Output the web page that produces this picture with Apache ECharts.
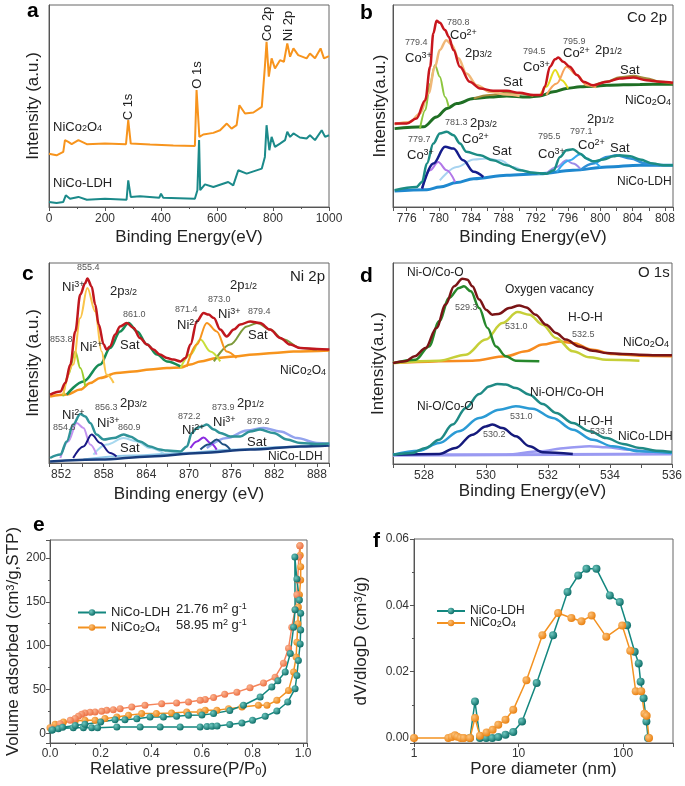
<!DOCTYPE html>
<html>
<head>
<meta charset="utf-8">
<script src="https://cdn.jsdelivr.net/npm/echarts/dist/echarts.min.js"></script>
<style>
html,body{margin:0;padding:0;background:#fff;}
#main{width:685px;height:786px;}
</style>
</head>
<body>
<div id="main"></div>
<script>
// ---- a: survey spectra (binding energy eV, intensity a.u.)
var aNiCo2O4 = [[0,26.4],[27,25.6],[51,27.3],[57,33.1],[69,32.2],[81,31.1],[105,33.1],[135,31.1],[200,31.4],[275,31.1],[283,43.0],[292,31.4],[361,30.9],[444,30.4],[521,30.2],[527,57.9],[537,34.7],[551,35.9],[587,36.7],[611,38.0],[635,41.3],[652,38.8],[670,40.5],[680,50.4],[700,46.3],[730,46.8],[760,49.6],[771,69.4],[777,81.8],[785,64.5],[795,73.6],[807,68.6],[825,72.7],[839,71.9],[851,81.0],[861,74.4],[873,78.5],[890,75.2],[920,73.6],[932,76.0],[950,73.6],[970,78.5],[982,73.6],[1000,74.7]];
var aLDH = [[0,2.5],[27,2.0],[51,2.5],[60,5.8],[75,4.1],[105,5.0],[135,3.6],[200,4.1],[277,3.6],[283,13.2],[292,5.0],[325,5.3],[394,4.6],[400,6.6],[408,4.6],[521,4.1],[530,8.3],[536,33.1],[540,8.3],[557,11.2],[587,9.9],[640,12.4],[658,10.7],[676,18.2],[706,16.5],[760,19.0],[771,24.8],[777,40.5],[787,28.1],[795,34.7],[807,29.8],[825,31.4],[843,33.1],[851,37.2],[861,34.7],[873,36.4],[896,34.4],[920,33.9],[932,35.5],[950,33.1],[974,38.0],[986,34.7],[1000,35.5]];

// ---- b: Co 2p
var bOxEnv = [[774.5,41.3],[776,41.3],[777.2,43.8],[778.3,52.9],[778.9,69.4],[779.3,86.0],[779.7,92.2],[780.1,91.2],[780.75,87.6],[781.2,84.3],[781.8,77.7],[782.6,69.4],[783.8,62.0],[785.1,58.7],[786.7,57.5],[788.4,57.5],[790.0,56.5],[791.7,55.4],[792.7,55.4],[793.1,59.5],[793.75,69.4],[794.4,73.1],[794.8,74.0],[795.4,71.9],[796.2,69.4],[797.1,65.3],[797.9,62.0],[799.1,60.3],[800.8,62.0],[802.4,63.6],[804.1,64.1],[805.7,62.8],[807.4,62.0],[809,61.5]];
var bOxBg = [[774.5,38.8],[778.1,39.7],[779.7,44.6],[781.0,48.8],[782.2,51.2],[784.3,53.7],[786.3,54.5],[788.4,55.0],[790.9,54.5],[792.5,55.0],[794.2,57.0],[795.8,58.7],[797.5,59.5],[799.1,59.8],[800.8,60.3],[804.9,60.7],[809,60.8]];
var bOxCo2 = [[774.5,41.0],[776.4,42.1],[777.65,46.3],[778.7,56.2],[779.5,69.4],[780.1,77.7],[780.9,82.6],[781.6,80.2],[782.4,73.6],[783.4,66.1],[784.7,60.3],[786.3,57.0],[788.4,55.7],[790.0,55.0]];
var bOxCo3 = [[777.65,38.8],[778.3,47.9],[778.9,61.2],[779.5,70.2],[780.1,64.5],[780.75,54.5],[781.2,49.6]];
var bOxSat1 = [[784.3,53.7],[786.3,55.4],[788.4,56.5],[790.0,56.2],[791.7,54.9]];
var bOxCo3b = [[792.5,55.0],[793.3,59.5],[794.4,67.8],[795.2,62.8],[796.0,58.7]];
var bOxCo2b = [[793.3,55.4],[794.6,61.2],[795.8,69.4],[797.1,65.3],[798.3,60.3],[799.5,59.2]];
var bOxSat2 = [[799.1,59.8],[800.8,62.0],[802.4,64.1],[804.1,64.8],[805.7,63.6],[807.4,62.0],[809,61.2]];
var bLdhEnv = [[774.5,8.3],[777.2,9.9],[777.9,12.4],[778.5,21.5],[779.3,31.4],[780.1,36.4],[780.95,37.2],[781.8,35.5],[782.6,31.4],[783.4,27.3],[785.1,25.6],[786.7,23.1],[788.4,20.7],[790.0,18.2],[791.7,17.0],[793.3,16.5],[794.2,18.2],[795.0,24.8],[795.8,28.1],[796.6,28.6],[797.5,26.4],[798.3,24.0],[799.1,22.6],[800.4,23.5],[801.6,25.1],[802.4,25.6],[803.7,25.1],[804.9,23.5],[806.55,21.5],[807.8,20.7],[809,20.7]];
var bLdhBg = [[774.5,7.9],[778.5,8.6],[780.1,9.9],[782.2,12.1],[784.3,14.0],[788.4,15.7],[792.5,16.5],[796.6,18.2],[800.8,19.8],[804.9,20.7],[809,20.7]];
var bLdhCo3 = [[777.9,9.1],[778.9,18.2],[779.9,22.3],[780.95,18.2],[782.0,12.4]];
var bLdhCo2 = [[777.9,9.1],[779.3,21.5],[780.75,29.8],[781.8,28.9],[783.0,23.1],[784.3,17.4],[785.5,14.9]];
var bLdhSat1 = [[780.1,13.2],[782.2,19.8],[784.3,23.5],[785.9,24.0],[787.6,23.1],[789.2,19.8],[790.9,17.4],[792.5,16.5]];
var bLdhCo3b = [[793.3,16.5],[794.6,19.8],[795.8,23.1],[796.6,21.5],[797.5,19.0]];
var bLdhCo2b = [[794.6,17.4],[796.2,23.1],[797.5,26.1],[798.7,23.1],[800.0,19.8]];
var bLdhSat2 = [[797.5,18.2],[799.1,21.5],[800.8,24.8],[802.0,25.6],[803.7,24.0],[805.7,21.5],[807.4,20.7]];

// ---- c: Ni 2p
var cOxEnv = [[850.45,34.2],[851.9,35.8],[852.6,40],[853.3,49.2],[854.0,65.8],[854.7,84.2],[855.4,90],[855.7,92.2],[856.3,88.3],[856.8,79.2],[857.3,69.2],[858.0,59.2],[858.4,56.7],[858.9,58.3],[859.6,64.2],[860.3,68.3],[861.25,70],[862.2,67.5],[863.1,62.5],[864.1,59.2],[865.0,56.7],[865.9,54.2],[866.9,52.5],[867.8,51.7],[868.8,50.8],[869.5,52.5],[870.2,59.2],[871.1,70.8],[872.05,75],[872.75,74.2],[873.5,72.5],[874.4,66.7],[875.3,63.3],[876.3,66.7],[877.2,69.2],[878.6,70.8],[880.0,70],[881.4,66.7],[882.85,62.5],[884.25,59.2],[885.7,57.5],[888.0,57],[889.75,56.7]];
var cOxBg = [[850.45,33.3],[852.8,34.2],[854.7,36.7],[856.1,40],[857.5,42.5],[859.8,45],[862.2,45.8],[864.5,46.7],[866.9,47.5],[868.8,47.8],[870.2,49.2],[871.6,50.8],[873.9,52.5],[876.3,53.3],[879.1,54.2],[881.9,55],[884.7,55.8],[889.75,56.3]];
var cOxSat1 = [[852.8,34.2],[855.15,40.8],[857.5,49.2],[858.9,57.5],[860.3,65.8],[861.5,70],[862.7,65.8],[864.1,59.2],[865.5,54.2],[866.9,50.8],[868.8,48.3]];
var cOxNi3 = [[852.3,34.2],[853.7,49.2],[854.7,72.5],[855.7,87.5],[856.8,75.8],[857.7,55.8],[858.4,44.2],[859.4,40]];
var cOxNi2 = [[852.3,33.3],[853.0,44.2],[854.0,55.8],[854.7,47.5],[855.4,38.3]];
var cOxNi2b = [[868.8,47.5],[870.2,54.2],[871.6,61.7],[873.0,55.8],[874.4,50.8]];
var cOxNi3b = [[869.7,48.3],[871.1,59.2],[872.5,70],[873.9,65.8],[875.3,55.8],[876.7,52.5]];
var cOxSat2 = [[873.5,50.8],[875.8,59.2],[878.15,68.3],[879.6,70],[881.4,66.7],[883.3,61.7],[885.7,57.5],[888.0,56.7]];
var cLdhEnv = [[850.45,2.5],[851.9,4.2],[852.8,10.8],[853.7,19.2],[854.7,24.5],[855.4,23.3],[856.1,20],[857.0,14.2],[858.0,11.7],[859.4,12.5],[860.8,14.2],[861.7,13.3],[863.1,10.8],[864.5,8.3],[865.9,6.7],[866.9,6.2],[868.8,5.8],[869.7,8.3],[870.4,15],[871.1,17.5],[871.8,18.3],[872.5,19.2],[873.5,16.7],[874.4,15],[875.8,13.3],[877.2,13.3],[878.6,15.8],[880.0,16.7],[881.9,15],[883.8,11.7],[885.7,10],[888.0,9.5],[889.75,9.7]];
var cLdhBg = [[850.45,0.8],[857.5,1.7],[864.5,3.3],[871.6,5],[878.6,6.7],[885.7,8.3],[889.75,8.8]];
var cLdhBg2 = [[855.15,1.7],[862.2,3.7],[869.2,5],[876.3,6.7],[883.3,8],[889.75,9.2]];
var cLdhNi2 = [[851.9,2.5],[853.0,10.8],[854.2,20],[855.15,17.5],[856.1,9.2],[857.0,4.2]];
var cLdhNi3 = [[853.7,2.5],[855.15,8.3],[856.3,14.2],[857.5,10],[858.9,5],[859.8,3.3]];
var cLdhSat1 = [[856.55,4.2],[858.4,9.2],[860.8,12.5],[862.7,10.8],[864.5,7.5],[866.4,5]];
var cLdhNi2b = [[870.2,7.5],[871.1,10.8],[872.05,12.8],[873.0,10],[873.9,6.7]];
var cLdhNi3b = [[871.6,6.7],[872.75,9.2],[873.9,11.7],[874.9,9.2],[875.8,6.7]];
var cLdhSat2 = [[872.5,7.5],[875.3,12.5],[878.15,16.2],[880.5,17.5],[882.85,15.8],[885.2,12.5],[888.0,10],[889.75,9.5]];

// ---- d: O 1s
var dOxEnv = [[527,50.2],[527.4,51.1],[527.7,53.6],[528.05,57.7],[528.4,67.7],[528.7,79.3],[528.97,88.4],[529.24,92.2],[529.4,91.7],[529.56,88.4],[529.78,81.8],[530.0,76.8],[530.2,74.3],[530.4,74.6],[530.75,77.6],[531.07,78.9],[531.3,77.9],[531.6,74.3],[531.94,69.3],[532.26,65.2],[532.58,61.9],[533.0,58.5],[533.44,56.4],[533.9,55.2],[534.4,54.7],[534.95,54.4],[535.5,54.1],[536,54.1]];
var dOxO1 = [[527,50.2],[527.73,51.9],[528.16,58.5],[528.49,71.0],[528.81,82.6],[529.13,87.6],[529.29,88.4],[529.51,85.9],[529.78,77.6],[530.05,67.7],[530.32,58.5],[530.64,53.6],[530.96,51.4],[531.72,51.1]];
var dOxO2 = [[527,50.2],[528.49,51.4],[529.35,54.4],[529.99,61.9],[530.53,70.1],[531.02,75.6],[531.4,74.3],[531.83,69.3],[532.26,62.7],[532.8,56.1],[533.34,53.1],[533.88,51.9],[534.95,51.4]];
var dOxO3 = [[527,50.2],[529.56,51.4],[530.64,53.6],[531.29,56.1],[531.83,59.4],[532.37,61.0],[532.8,60.2],[533.44,56.9],[534.09,54.7],[534.95,53.9],[536,53.6]];
var dLdhEnv = [[527,4.6],[527.62,5.5],[528.05,8.0],[528.49,12.1],[528.92,19.6],[529.35,27.9],[529.78,34.8],[530.1,38.6],[530.37,39.8],[530.64,39.5],[530.96,37.8],[531.4,34.5],[531.83,29.9],[532.26,25.4],[532.8,20.4],[533.34,16.3],[533.88,12.9],[534.42,10.0],[534.95,8.0],[535.49,6.6],[536,6.0]];
var dLdhO2 = [[527,4.6],[527.84,6.6],[528.49,10.4],[529.13,16.3],[529.78,22.9],[530.43,27.0],[530.96,28.7],[531.5,27.5],[532.15,22.9],[532.8,17.1],[533.44,12.1],[534.09,8.8],[534.95,6.3],[536,5.5]];
var dLdhO1 = [[527,4.6],[528.49,5.0],[529.02,8.0],[529.56,14.6],[529.99,18.7],[530.21,19.6],[530.53,17.9],[530.96,13.8],[531.4,8.8],[531.83,5.8],[532.8,5.0]];
var dLdhO3 = [[527,4.6],[530.64,4.6],[531.72,6.3],[532.58,8.0],[533.34,8.8],[533.88,8.3],[534.63,7.1],[535.39,5.8],[536,5.3]];
var dLdhBg = [[527,4.4],[536,5.0]];

// ---- e: N2 isotherms (P/P0, cm3/g)
var eLdh = [[0.007,3.4],[0.033,5.3],[0.092,6.5],[0.132,6.5],[0.165,6.5],[0.188,6.5],[0.264,7.2],[0.356,7.2],[0.435,7.2],[0.514,7.2],[0.593,7.2],[0.62,7.8],[0.64,8.0],[0.66,8.5],[0.71,10],[0.758,11.8],[0.8,14.9],[0.85,19.4],[0.896,25.5],[0.939,35.8],[0.968,51],[0.975,66],[0.981,83],[0.988,102],[0.99,118],[0.99,137],[0.985,152],[0.975,176],[0.967,201],[0.968,141],[0.962,121],[0.949,91],[0.929,70],[0.9,60],[0.876,53],[0.83,41.5],[0.764,32],[0.71,26],[0.646,22.5],[0.6,21],[0.547,20.6],[0.5,19.4],[0.448,18.7],[0.395,18.7],[0.343,16.7],[0.296,15.6],[0.257,15.6],[0.2,13],[0.138,10.3],[0.1,9],[0.05,7],[0.01,4]];
var eOxAds = [[0,6.5],[0.02,10.3],[0.053,12.9],[0.099,14.1],[0.138,14.9],[0.178,14.9],[0.217,16.8],[0.264,18.7],[0.31,20.6],[0.362,22.5],[0.42,22.5],[0.48,23.2],[0.54,24.4],[0.593,24.4],[0.613,26.3],[0.659,26.3],[0.705,28.2],[0.758,30],[0.823,32],[0.857,32],[0.896,37.7],[0.942,49],[0.962,70],[0.972,87],[0.975,104],[0.979,125],[0.981,144],[0.985,158],[0.99,175],[0.99,190],[0.988,203],[0.987,214]];
var eOxDes = [[0.987,214],[0.983,201],[0.978,175],[0.975,158],[0.968,141],[0.955,121],[0.942,97],[0.922,80],[0.889,64],[0.843,57.5],[0.79,52],[0.738,47],[0.69,44.6],[0.646,40.8],[0.613,38.5],[0.593,37.7],[0.547,35.8],[0.5,34.7],[0.441,33.9],[0.375,32],[0.323,30],[0.277,28.2],[0.25,27],[0.224,26.3],[0.204,25.1],[0.178,24.4],[0.158,24],[0.138,23.2],[0.125,21.7],[0.112,19.4],[0.099,16.8],[0.08,14.9],[0.04,11],[0.007,5.3]];

// ---- f: pore size distribution (nm, cm3/g)
var fLdh = [[3.43,0],[3.83,0.011],[4.27,0],[4.9,0],[5.6,0],[6.4,0.0003],[7.5,0.001],[8.9,0.0018],[10.8,0.005],[14.9,0.0166],[21.4,0.031],[29.4,0.044],[37.2,0.049],[44.6,0.051],[55.6,0.051],[74.6,0.043],[92.9,0.041],[109,0.034],[129,0.026],[141,0.0225],[147,0.017],[157,0.012],[167,0.005],[173,0]];
var fOx = [[1,0],[2.13,0],[2.3,0.0003],[2.46,0.0008],[2.6,0.0004],[2.8,0],[3.0,0],[3.43,0],[3.83,0.006],[4.27,0.0007],[4.94,0.0017],[5.65,0.0025],[6.4,0.004],[7.5,0.0055],[8.9,0.0085],[11.9,0.0174],[16.9,0.031],[23.9,0.0377],[32,0.0362],[40,0.0352],[50,0.0369],[69,0.0305],[98,0.0339],[117,0.0263],[132,0.0141],[149,0.0141],[160,0.0073],[168,0.0067],[177,0]];

var FONT = 'Liberation Sans, Arial, sans-serif';
var RICH = {
	sup: {fontSize: 9, verticalAlign: 'top', fontFamily: FONT},
	sub: {fontSize: 9, verticalAlign: 'bottom', fontFamily: FONT}
};
// "Co^{3+}" / "NiCo_{2}O_{4}" -> echarts rich text
function fmt(s) {
	return s.replace(/\^\{([^}]*)\}/g, '{sup|$1}').replace(/_\{([^}]*)\}/g, '{sub|$1}');
}

function ln(data, i, color, w, smooth) {
	return {
		type: 'line', xAxisIndex: i, yAxisIndex: i, data: data,
		symbol: 'none', showSymbol: false, silent: true,
		smooth: smooth === false ? false : 0.35, smoothMonotone: 'x',
		lineStyle: {color: color, width: w || 2}
	};
}
function sph(c1, c2) {
	return {type: 'radial', x: 0.35, y: 0.35, r: 0.7,
		colorStops: [{offset: 0, color: c1}, {offset: 1, color: c2}]};
}
function pts(name, data, i, line, c1, c2, size) {
	return {
		name: name, type: 'line', xAxisIndex: i, yAxisIndex: i, data: data,
		symbol: 'circle', symbolSize: size, showSymbol: true,
		lineStyle: {color: line, width: 1.5},
		itemStyle: {color: sph(c1, c2), borderWidth: 0}
	};
}

var grids = [
	{left: 49, top: 5, width: 280, height: 202},
	{left: 393, top: 5, width: 280, height: 202},
	{left: 49, top: 263, width: 280, height: 200},
	{left: 393, top: 263, width: 280, height: 201},
	{left: 50, top: 540, width: 257, height: 203},
	{left: 414, top: 539, width: 259, height: 204}
];
grids.forEach(function(g){ g.show = true; g.borderColor = '#666'; g.borderWidth = 1; g.containLabel = false; });

function isStep(v, base, step) {
	var k = (v - base) / step;
	return Math.abs(k - Math.round(k)) < 1e-6;
}
function xAx(i, o) {
	var a = {
		gridIndex: i, type: 'value',
		axisLine: {show: true, onZero: false, lineStyle: {color: '#555'}},
		axisTick: {show: true, inside: false, length: 4, lineStyle: {color: '#555'}},
		minorTick: {show: false},
		axisLabel: {color: '#333', fontSize: 12, margin: 6, fontFamily: FONT},
		splitLine: {show: false},
		nameLocation: 'middle',
		nameTextStyle: {fontSize: 17, color: '#222', fontFamily: FONT, rich: {sup: {fontSize: 11, verticalAlign: 'top'}, sub: {fontSize: 11, verticalAlign: 'bottom'}}}
	};
	for (var k in o) a[k] = o[k];
	return a;
}
function yBlank(i, name, gap) {
	return {
		gridIndex: i, type: 'value', min: 0, max: 100,
		axisLine: {show: true, onZero: false, lineStyle: {color: '#555'}},
		axisTick: {show: false}, axisLabel: {show: false}, splitLine: {show: false},
		name: name, nameLocation: 'middle', nameGap: gap,
		nameTextStyle: {fontSize: 17, color: '#222', fontFamily: FONT}
	};
}

var xAxes = [
	xAx(0, {min: 0, max: 1000, interval: 200, minorTick: {show: true, splitNumber: 2, length: 2, lineStyle: {color: '#555'}},
		axisLabel: {color: '#333', fontSize: 12, margin: 6, fontFamily: FONT, formatter: function(v){ return String(v); }},
		name: 'Binding Energy(eV)', nameGap: 22}),
	xAx(1, {min: 774.3, max: 809, splitNumber: 17,
		axisLabel: {color: '#333', fontSize: 12, margin: 6, fontFamily: FONT,
			formatter: function(v){ return isStep(v, 776, 4) ? String(Math.round(v)) : ''; }},
		name: 'Binding Energy(eV)', nameGap: 22}),
	xAx(2, {min: 850.3, max: 889.7, splitNumber: 13,
		axisLabel: {color: '#333', fontSize: 12, margin: 6, fontFamily: FONT,
			formatter: function(v){ return isStep(v, 852, 6) ? String(Math.round(v)) : ''; }},
		name: 'Binding energy (eV)', nameGap: 23}),
	xAx(3, {min: 527, max: 536, interval: 1,
		axisLabel: {color: '#333', fontSize: 12, margin: 6, fontFamily: FONT,
			formatter: function(v){ return isStep(v, 528, 2) ? String(Math.round(v)) : ''; }},
		name: 'Binding Energy(eV)', nameGap: 19}),
	xAx(4, {min: 0, max: 1.015, interval: 0.2, minorTick: {show: true, splitNumber: 2, length: 2, lineStyle: {color: '#555'}},
		axisLabel: {color: '#333', fontSize: 12, margin: 5, fontFamily: FONT,
			formatter: function(v){ return isStep(v, 0, 0.2) ? v.toFixed(1) : ''; }},
		name: 'Relative pressure(P/P{sub|0})', nameGap: 16}),
	xAx(5, {type: 'log', logBase: 10, min: 1, max: 300,
		axisLabel: {color: '#333', fontSize: 12, margin: 5, fontFamily: FONT,
			formatter: function(v){ var l = Math.log(v) / Math.LN10; return Math.abs(l - Math.round(l)) < 1e-6 ? String(Math.round(v)) : ''; }},
		name: 'Pore diameter (nm)', nameGap: 18})
];

var yAxes = [
	yBlank(0, 'Intensity (a.u.)', 7),
	yBlank(1, 'Intensity(a.u.)', 4),
	yBlank(2, 'Intensity (a.u.)', 7),
	yBlank(3, 'Intensity(a.u.)', 6),
	{
		gridIndex: 4, type: 'value', min: -11, max: 220.5, splitNumber: 5,
		axisLine: {show: true, onZero: false, lineStyle: {color: '#555'}},
		axisTick: {show: true, length: 4, lineStyle: {color: '#555'}},
		minorTick: {show: true, splitNumber: 2, length: 2, lineStyle: {color: '#555'}},
		axisLabel: {color: '#333', fontSize: 12, margin: 4, fontFamily: FONT,
			formatter: function(v){ return isStep(v, 0, 50) ? String(Math.round(v)) : ''; }},
		splitLine: {show: false},
		name: 'Volume adsorbed (cm{sup|3}/g,STP)', nameLocation: 'middle', nameGap: 24,
		nameTextStyle: {fontSize: 17, color: '#222', fontFamily: FONT, rich: {sup: {fontSize: 11, verticalAlign: 'top'}}}
	},
	{
		gridIndex: 5, type: 'value', min: -0.0015, max: 0.06, splitNumber: 3,
		axisLine: {show: true, onZero: false, lineStyle: {color: '#555'}},
		axisTick: {show: true, length: 4, lineStyle: {color: '#555'}},
		minorTick: {show: true, splitNumber: 2, length: 2, lineStyle: {color: '#555'}},
		axisLabel: {color: '#333', fontSize: 12, margin: 5, fontFamily: FONT,
			formatter: function(v){ return isStep(v, 0, 0.02) ? v.toFixed(2) : ''; }},
		splitLine: {show: false},
		name: 'dV/dlogD (cm{sup|3}/g)', nameLocation: 'middle', nameGap: 44,
		nameTextStyle: {fontSize: 17, color: '#222', fontFamily: FONT, rich: {sup: {fontSize: 11, verticalAlign: 'top'}}}
	}
];

var series = [
	ln(aNiCo2O4, 0, '#f7941d', 2, false),
	ln(aLDH, 0, '#1b8a8a', 2, false),

	ln(bOxBg, 1, '#1f6f24', 3),
	ln(bOxSat1, 1, '#a38b3b', 2),
	ln(bOxSat2, 1, '#a38b3b', 2.5),
	ln(bOxCo3, 1, '#8dc63f', 2),
	ln(bOxCo2, 1, '#f0b878', 2.5),
	ln(bOxCo3b, 1, '#e4dc1c', 2),
	ln(bOxCo2b, 1, '#f7a35c', 2),
	ln(bOxEnv, 1, '#c8161d', 2.5),
	ln(bLdhBg, 1, '#1e88cf', 3),
	ln(bLdhSat1, 1, '#a7d3f0', 2),
	ln(bLdhSat2, 1, '#2f8fd6', 2.5),
	ln(bLdhCo3, 1, '#b277e8', 2),
	ln(bLdhCo2, 1, '#151d8c', 2.5),
	ln(bLdhCo3b, 1, '#9b8be8', 2),
	ln(bLdhCo2b, 1, '#35aaf0', 2),
	ln(bLdhEnv, 1, '#1c8c84', 2.5),

	ln(cOxBg, 2, '#f7941d', 2.5),
	ln(cOxSat1, 2, '#178c56', 2.5),
	ln(cOxSat2, 2, '#7d9a3b', 2),
	ln(cOxNi2, 2, '#9ccc2c', 2),
	ln(cOxNi3, 2, '#fac44a', 2),
	ln(cOxNi2b, 2, '#c8df3a', 2),
	ln(cOxNi3b, 2, '#f7941d', 2),
	ln(cOxEnv, 2, '#c0171e', 2.5),
	ln(cLdhBg2, 2, '#90c8e8', 2),
	ln(cLdhBg, 2, '#183e7e', 2.5),
	ln(cLdhSat1, 2, '#a7d8ef', 2),
	ln(cLdhSat2, 2, '#93a3ee', 2.5),
	ln(cLdhNi2, 2, '#c394f0', 2),
	ln(cLdhNi3, 2, '#1a1a86', 2),
	ln(cLdhNi2b, 2, '#8b2be0', 2),
	ln(cLdhNi3b, 2, '#1e4f80', 2),
	ln(cLdhEnv, 2, '#2f9398', 2.5),

	ln(dOxO3, 3, '#f78b1f', 2.5),
	ln(dOxO2, 3, '#c6cf38', 2.5),
	ln(dOxO1, 3, '#27882c', 2.5),
	ln(dOxEnv, 3, '#7a1416', 2.5),
	ln(dLdhBg, 3, '#9a9af2', 3),
	ln(dLdhO3, 3, '#9a9af2', 2.5),
	ln(dLdhO1, 3, '#151a7c', 2.5),
	ln(dLdhO2, 3, '#2b9bd5', 2.5),
	ln(dLdhEnv, 3, '#1f8a85', 2.5),

	pts('NiCo2O4', eOxAds, 4, '#f39221', '#fcc27a', '#e97e0c', 7),
	pts('NiCo2O4 ', eOxDes, 4, '#f5845a', '#fbb592', '#ec6f42', 7),
	pts('NiCo-LDH', eLdh, 4, '#13877f', '#6fc7bf', '#0a6b65', 7),

	pts('NiCo-LDH', fLdh, 5, '#13877f', '#6fc7bf', '#0a6b65', 8),
	pts('NiCo2O4', fOx, 5, '#f39221', '#fcc27a', '#e97e0c', 8)
];

// annotations: [text, left x, centre y, size, colour]
var notes = [
	['NiCo_{2}O_{4}', 53, 127, 13], ['NiCo-LDH', 53, 183, 13],

	['Co 2p', 627, 18, 15], ['780.8', 447, 23, 9, '#555'], ['Co^{2+}', 450, 35, 13],
	['779.4', 405, 43, 9, '#555'], ['Co^{3+}', 405, 58, 13], ['2p_{3/2}', 465, 53, 13],
	['Sat', 503, 82, 13], ['794.5', 523, 52, 9, '#555'], ['Co^{3+}', 523, 67, 13],
	['795.9', 563, 42, 9, '#555'], ['Co^{2+}', 563, 53, 13], ['2p_{1/2}', 595, 50, 13],
	['Sat', 620, 70, 13], ['NiCo_{2}O_{4}', 625, 101, 12],
	['781.3', 445, 123, 9, '#555'], ['2p_{3/2}', 470, 123, 13], ['779.7', 408, 140, 9, '#555'],
	['Co^{2+}', 462, 139, 13], ['Co^{3+}', 407, 155, 13], ['Sat', 492, 151, 13],
	['795.5', 538, 137, 9, '#555'], ['797.1', 570, 132, 9, '#555'], ['2p_{1/2}', 587, 119, 13],
	['Co^{3+}', 538, 154, 13], ['Co^{2+}', 578, 145, 13], ['Sat', 610, 148, 13], ['NiCo-LDH', 617, 182, 12],

	['Ni 2p', 290, 277, 15], ['855.4', 77, 268, 9, '#555'], ['Ni^{3+}', 62, 287, 13],
	['2p_{3/2}', 110, 291, 13], ['861.0', 123, 315, 9, '#555'], ['853.8', 50, 340, 9, '#555'],
	['Ni^{2+}', 80, 347, 13], ['Sat', 120, 345, 13], ['2p_{1/2}', 230, 285, 13],
	['873.0', 208, 300, 9, '#555'], ['871.4', 175, 310, 9, '#555'], ['Ni^{3+}', 218, 314, 13],
	['879.4', 248, 312, 9, '#555'], ['Ni^{2+}', 177, 325, 13], ['Sat', 248, 335, 13],
	['NiCo_{2}O_{4}', 280, 371, 12],
	['2p_{3/2}', 120, 403, 13], ['Ni^{2+}', 62, 415, 13], ['856.3', 95, 408, 9, '#555'],
	['Ni^{3+}', 97, 423, 13], ['854.6', 53, 428, 9, '#555'], ['860.9', 118, 428, 9, '#555'],
	['Sat', 120, 448, 13], ['2p_{1/2}', 237, 403, 13], ['872.2', 178, 417, 9, '#555'],
	['873.9', 212, 408, 9, '#555'], ['Ni^{2+}', 182, 430, 13], ['Ni^{3+}', 213, 422, 13],
	['879.2', 247, 422, 9, '#555'], ['Sat', 247, 442, 13], ['NiCo-LDH', 268, 457, 12],

	['O 1s', 638, 273, 15], ['Ni-O/Co-O', 407, 273, 12], ['Oxygen vacancy', 505, 290, 12],
	['529.3', 455, 308, 9, '#555'], ['531.0', 505, 327, 9, '#555'], ['H-O-H', 568, 318, 12],
	['532.5', 572, 335, 9, '#555'], ['NiCo_{2}O_{4}', 623, 343, 12],
	['Ni-OH/Co-OH', 530, 393, 12], ['Ni-O/Co-O', 417, 407, 12], ['531.0', 510, 417, 9, '#555'],
	['H-O-H', 578, 422, 12], ['530.2', 483, 435, 9, '#555'], ['533.5', 590, 432, 9, '#555'],
	['NiCo-LDH', 618, 437, 12],

	['21.76 m^{2} g^{-1}', 176, 609, 13], ['58.95 m^{2} g^{-1}', 176, 625, 13]
];
// rotated peak labels of panel a: [text, centre x, centre y]
var vnotes = [['C 1s', 128, 107], ['O 1s', 197, 75], ['Co 2p', 267, 24], ['Ni 2p', 288, 26]];
var letters = [['a', 27, 11], ['b', 360, 13], ['c', 22, 274], ['d', 360, 276], ['e', 33, 525], ['f', 373, 541]];

var graphics = [];
notes.forEach(function(n){
	graphics.push({type: 'text', x: n[1], y: n[2], silent: true, z: 100, style: {
		text: fmt(n[0]), fontSize: n[3], fontFamily: FONT, fill: n[4] || '#222',
		align: 'left', verticalAlign: 'middle', textAlign: 'left', textVerticalAlign: 'middle', rich: RICH}});
});
vnotes.forEach(function(n){
	graphics.push({type: 'text', x: n[1], y: n[2], rotation: Math.PI / 2, silent: true, z: 100, style: {
		text: n[0], fontSize: 13, fontFamily: FONT, fill: '#222',
		align: 'center', verticalAlign: 'middle', textAlign: 'center', textVerticalAlign: 'middle'}});
});
letters.forEach(function(n){
	graphics.push({type: 'text', x: n[1], y: n[2], silent: true, z: 100, style: {
		text: n[0], fontSize: 21, fontWeight: 'bold', fontFamily: FONT, fill: '#000',
		align: 'left', verticalAlign: 'middle', textAlign: 'left', textVerticalAlign: 'middle'}});
});

function legendFmt(name) { return name.trim() === 'NiCo2O4' ? 'NiCo{sub|2}O{sub|4}' : name; }

var chart = echarts.init(document.getElementById('main'), null, {renderer: 'canvas'});
chart.setOption({
	animation: false,
	backgroundColor: '#fff',
	textStyle: {fontFamily: FONT},
	grid: grids,
	xAxis: xAxes,
	yAxis: yAxes,
	legend: [
		{data: ['NiCo-LDH', 'NiCo2O4'], left: 72, top: 601, orient: 'vertical', itemGap: 2, itemWidth: 28, itemHeight: 8,
			selectedMode: false, formatter: legendFmt, textStyle: {fontSize: 13, color: '#222', fontFamily: FONT, rich: RICH}},
		{data: ['NiCo-LDH', 'NiCo2O4'], left: 431, top: 600, orient: 'vertical', itemGap: 0, itemWidth: 28, itemHeight: 8,
			selectedMode: false, formatter: legendFmt, textStyle: {fontSize: 12, color: '#222', fontFamily: FONT, rich: RICH}}
	],
	series: series,
	graphic: {elements: graphics}
});
</script>
</body>
</html>
